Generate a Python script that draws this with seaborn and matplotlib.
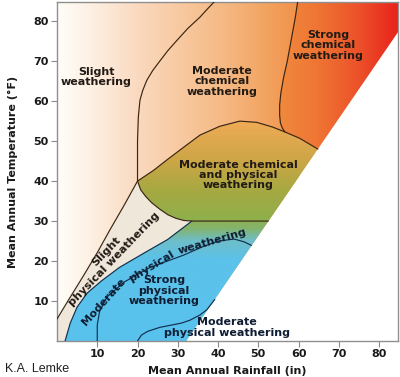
import matplotlib
matplotlib.use("Agg")
import matplotlib.pyplot as plt
import numpy as np
import seaborn as sns
from matplotlib.colors import LinearSegmentedColormap
from matplotlib.patches import Polygon


# boundary curves: rainfall (in) and temperature (°F)
SLIGHT_CHEM_RAIN = [39.2, 37.5, 35.5, 32.5, 29.7, 27.5, 25.6, 23.8, 22.3, 21.3, 20.6, 20.2, 20.0, 20.0]
SLIGHT_CHEM_TEMP = [85.0, 83.2, 81.0, 78.2, 75.1, 72.6, 70.1, 67.7, 65.2, 62.7, 60.2, 56.0, 50.0, 40.0]

STRONG_CHEM_RAIN = [59.8, 59.2, 58.3, 57.2, 56.3, 55.6, 55.3, 55.3, 55.5, 56.0, 56.6]
STRONG_CHEM_TEMP = [85.0, 81.0, 76.0, 70.0, 66.0, 62.0, 59.0, 56.5, 54.5, 53.2, 52.3]

MIXED_TOP_RAIN = [20.0, 24.0, 27.3, 31.5, 35.5, 40.4, 45.4, 49.6, 53.6, 56.6, 60.3, 64.8]
MIXED_TOP_TEMP = [40.0, 42.7, 45.3, 48.5, 51.5, 53.7, 55.0, 54.7, 53.5, 52.3, 50.7, 48.0]

MIXED_LOW_RAIN = [20.0, 20.8, 22.0, 23.5, 25.5, 27.5, 29.5, 31.5, 33.5, 52.5]
MIXED_LOW_TEMP = [40.0, 37.8, 36.2, 34.6, 33.0, 31.6, 30.7, 30.15, 30.0, 30.0]

SLIGHT_PHYS_RAIN = [0.0, 3.0, 6.5, 10.0, 13.2, 16.7, 20.0]
SLIGHT_PHYS_TEMP = [5.5, 10.5, 16.2, 22.1, 27.9, 34.0, 40.0]

MOD_PHYS_RAIN = [2.0, 3.3, 5.0, 7.5, 11.0, 15.5, 21.8, 27.5, 33.5]
MOD_PHYS_TEMP = [0.0, 4.5, 8.5, 12.0, 15.0, 18.4, 22.1, 25.4, 30.0]

STRONG_PHYS_RAIN = [10.0, 10.0, 10.6, 12.4, 16.6, 23.1, 31.5, 36.0, 40.0, 44.0, 46.5, 48.3]
STRONG_PHYS_TEMP = [0.0, 4.0, 7.5, 11.0, 14.7, 18.4, 21.5, 23.5, 25.0, 25.5, 24.8, 23.9]

LOW_MOD_PHYS_RAIN = [20.0, 21.0, 22.5, 25.5, 28.0, 31.0, 33.0, 35.5, 37.2, 39.2]
LOW_MOD_PHYS_TEMP = [0.0, 1.5, 2.4, 3.4, 3.9, 4.5, 5.2, 6.5, 7.8, 10.4]

# edge of the climate field (lower right is empty)
EDGE_RAIN = [32.1, 92.0]
EDGE_TEMP = [0.0, 88.0]

X_TICKS = [10, 20, 30, 40, 50, 60, 70, 80]
Y_TICKS = [10, 20, 30, 40, 50, 60, 70, 80]

# region names with where they sit
WARM_LABELS = [
    ("Slight\nweathering", 9.8, 66.0, 0),
    ("Moderate\nchemical\nweathering", 41.0, 65.0, 0),
    ("Strong\nchemical\nweathering", 67.3, 74.0, 0),
    ("Moderate chemical\nand physical\nweathering", 45.0, 41.5, 0),
    ("Slight\nphysical weathering", 13.2, 21.4, 46),
]
COLD_LABELS = [
    ("Moderate", 11.6, 9.8, 48),
    ("physical", 23.6, 18.6, 31),
    ("weathering", 38.6, 25.0, 16),
    ("Strong\nphysical\nweathering", 26.6, 12.6, 0),
    ("Moderate\nphysical weathering", 42.2, 3.4, 0),
]


def clipped_ramp(ax, cmap, verts, extent, vertical, z):
    ramp = np.linspace(0, 1, 256)
    img = ramp[:, None] if vertical else ramp[None, :]
    im = ax.imshow(img, cmap=cmap, extent=extent, origin="lower", aspect="auto",
                   interpolation="bicubic", zorder=z)
    patch = Polygon(verts, closed=True, facecolor="none", edgecolor="none", transform=ax.transData)
    ax.add_patch(patch)
    im.set_clip_path(patch)


def main() -> None:
    sns.set_theme(style="white")
    plt.rcParams["font.family"] = ["DejaVu Sans"]

    fig = plt.figure(figsize=(4, 3.77), dpi=100)
    ax = fig.add_axes([0.1425, 0.0955, 0.8525, 0.8992])

    slope = (EDGE_TEMP[1] - EDGE_TEMP[0]) / (EDGE_RAIN[1] - EDGE_RAIN[0])

    def edge_point(t):
        return (EDGE_RAIN[0] + t / slope, t)

    # warm background, white to orange with rainfall
    bg = LinearSegmentedColormap.from_list("bg", [
        (0.0, "#fffdf9"), (5 / 60, "#fef6ec"), (12 / 60, "#fce9d8"), (20 / 60, "#fad9bf"),
        (30 / 60, "#f8caa2"), (42 / 60, "#f5b882"), (50 / 60, "#f3a867"), (56 / 60, "#f29a55"),
        (1.0, "#f1924a"),
    ])
    field = [(0, 0), (EDGE_RAIN[0], EDGE_TEMP[0]), (EDGE_RAIN[1], EDGE_TEMP[1]), (0, EDGE_TEMP[1])]
    clipped_ramp(ax, bg, field, [0, 60, 0, 90], False, 1)

    # strong chemical, orange to red
    i_join = MIXED_TOP_RAIN.index(56.6)
    strong = list(zip(STRONG_CHEM_RAIN, STRONG_CHEM_TEMP))
    strong += list(zip(MIXED_TOP_RAIN[i_join:], MIXED_TOP_TEMP[i_join:]))
    strong += [(EDGE_RAIN[1], EDGE_TEMP[1]), (59.8, EDGE_TEMP[1])]
    red = LinearSegmentedColormap.from_list("red", [
        (0.0, "#f08a3e"), (0.33, "#ef7534"), (0.66, "#ec5229"), (1.0, "#e8221c"),
    ])
    clipped_ramp(ax, red, strong, [55, 85, 0, 90], False, 2)

    # moderate chemical and physical
    mixed = list(zip(MIXED_TOP_RAIN, MIXED_TOP_TEMP)) + [edge_point(30.0)]
    mixed += list(zip(MIXED_LOW_RAIN, MIXED_LOW_TEMP))[::-1]
    mix_cmap = LinearSegmentedColormap.from_list("mix", [
        (0.0, "#8db04c"), (0.3, "#a6a942"), (0.6, "#cca646"), (1.0, "#efab56"),
    ])
    clipped_ramp(ax, mix_cmap, mixed, [0, 85, 30, 55], True, 2)

    # slight physical
    n_curve = MIXED_LOW_RAIN.index(33.5) + 1
    beige = list(zip(SLIGHT_PHYS_RAIN, SLIGHT_PHYS_TEMP))
    beige += list(zip(MIXED_LOW_RAIN[:n_curve], MIXED_LOW_TEMP[:n_curve]))
    beige += list(zip(MOD_PHYS_RAIN, MOD_PHYS_TEMP))[::-1] + [(0, 0)]
    ax.add_patch(Polygon(beige, closed=True, facecolor="#efe7da", edgecolor="none", zorder=2))

    # physical weathering, blue
    blue = list(zip(MOD_PHYS_RAIN, MOD_PHYS_TEMP)) + [edge_point(30.0), (EDGE_RAIN[0], 0)]
    blue_cmap = LinearSegmentedColormap.from_list("blue", [
        (0.0, "#58c2ee"), (0.68, "#5cc2ea"), (0.84, "#6ebec8"), (0.94, "#84b46c"), (1.0, "#8cb258"),
    ])
    clipped_ramp(ax, blue_cmap, blue, [0, 85, 0, 30], True, 2)

    brown = "#3a2614"
    navy = "#13304e"
    for xs, ys, col in [
        (SLIGHT_CHEM_RAIN, SLIGHT_CHEM_TEMP, brown),
        (STRONG_CHEM_RAIN, STRONG_CHEM_TEMP, brown),
        (MIXED_TOP_RAIN, MIXED_TOP_TEMP, brown),
        (MIXED_LOW_RAIN, MIXED_LOW_TEMP, brown),
        (SLIGHT_PHYS_RAIN, SLIGHT_PHYS_TEMP, brown),
        (MOD_PHYS_RAIN, MOD_PHYS_TEMP, navy),
        (STRONG_PHYS_RAIN, STRONG_PHYS_TEMP, navy),
        (LOW_MOD_PHYS_RAIN, LOW_MOD_PHYS_TEMP, navy),
    ]:
        sns.lineplot(x=xs, y=ys, sort=False, estimator=None, color=col, lw=0.85, ax=ax, zorder=4)

    for text, x, y, rot in WARM_LABELS:
        ax.text(x, y, text, ha="center", va="center", rotation=rot, rotation_mode="anchor",
                fontsize=8, fontweight="bold", color="#221a14", linespacing=1.05, zorder=5)
    for text, x, y, rot in COLD_LABELS:
        ax.text(x, y, text, ha="center", va="center", rotation=rot, rotation_mode="anchor",
                fontsize=8, fontweight="bold", color="#0f1d33", linespacing=1.05, zorder=5)

    ax.set_xlim(0, 84.7)
    ax.set_ylim(0, 84.8)
    ax.set_xticks(X_TICKS)
    ax.set_yticks(Y_TICKS)
    ax.tick_params(direction="out", length=4, width=0.8, color="#8a8a8a", labelsize=8,
                   labelcolor="#1a1a1a", pad=2, bottom=True, left=True)
    for lbl in ax.get_xticklabels() + ax.get_yticklabels():
        lbl.set_fontweight("bold")
    for sp in ax.spines.values():
        sp.set_color("#8f8f8f")
        sp.set_linewidth(1.0)

    ax.set_xlabel("Mean Annual Rainfall (in)", fontsize=8, fontweight="bold", color="#1a1a1a", labelpad=5)
    ax.set_ylabel("Mean Annual Temperature (°F)", fontsize=8, fontweight="bold", color="#1a1a1a",
                  labelpad=11)
    fig.text(5 / 400, 1 - 369 / 377, "K.A. Lemke", ha="left", va="center", fontsize=9,
             family=["Liberation Sans Narrow", "Liberation Sans", "DejaVu Sans"], color="#222222")

    fig.savefig("out.png", dpi=100)
    plt.close(fig)


if __name__ == "__main__":
    main()
